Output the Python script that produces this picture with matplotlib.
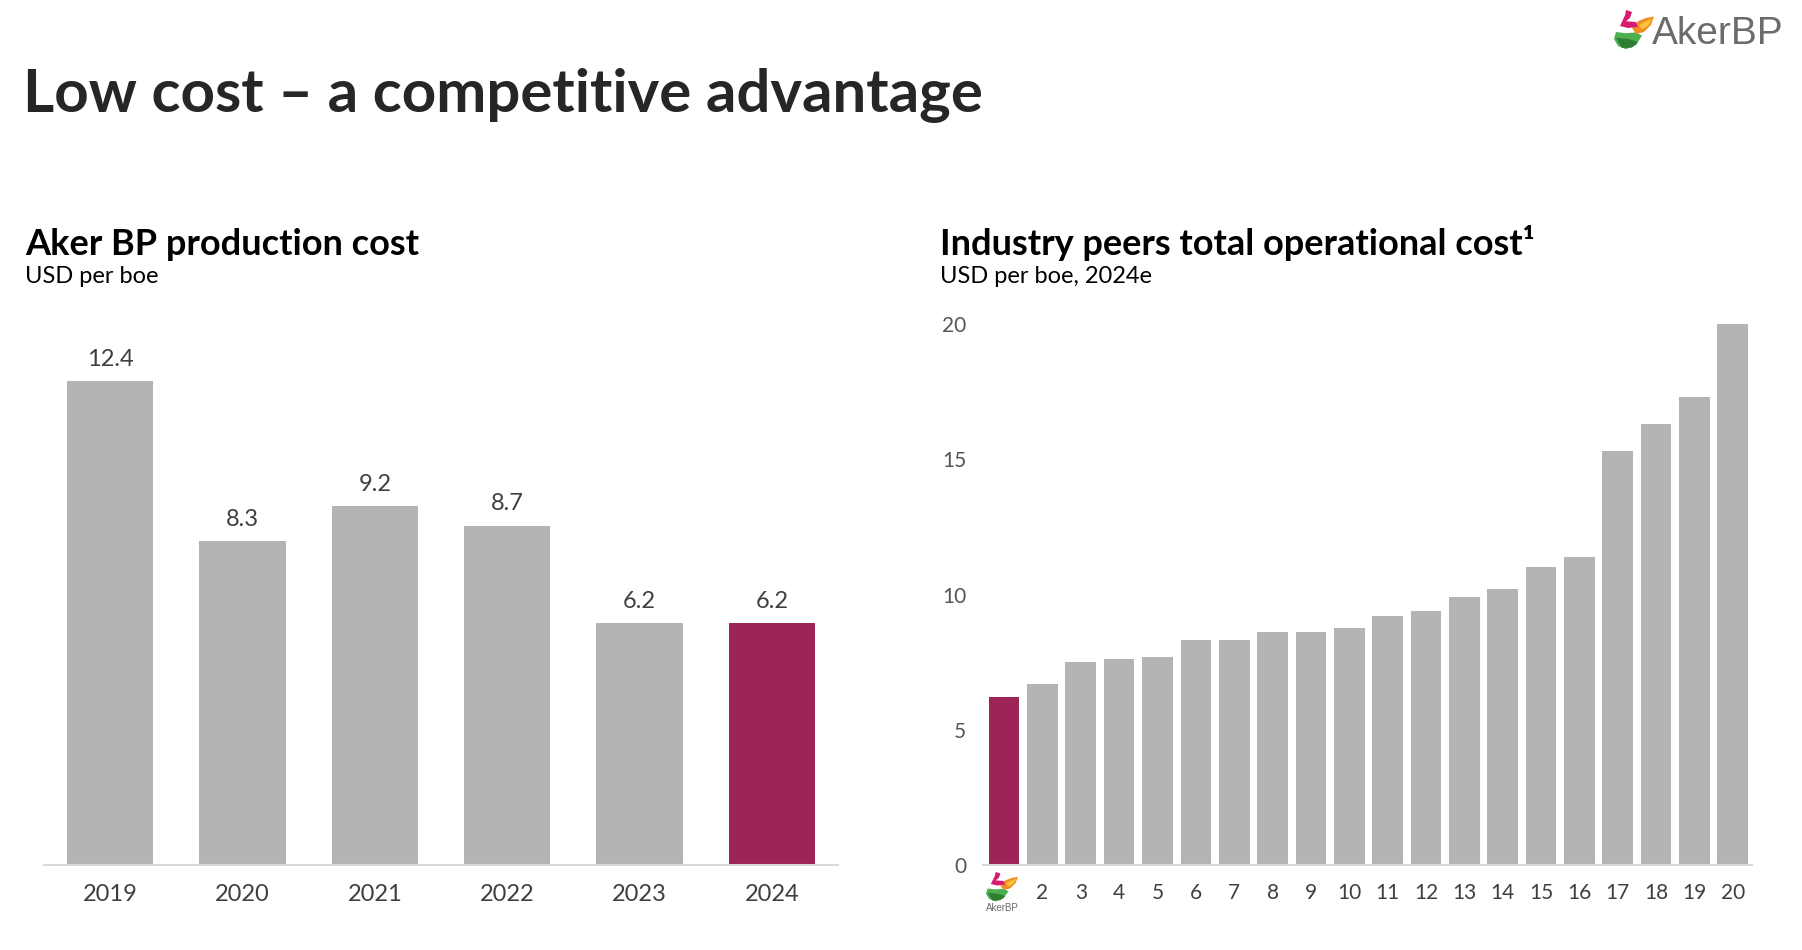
import matplotlib
matplotlib.use('Agg')
import matplotlib.pyplot as plt
from matplotlib.patches import Polygon
import numpy as np

plt.rcParams['font.family'] = ['Lato', 'DejaVu Sans']

# Left chart: Aker BP production cost (USD per boe)
years = ['2019', '2020', '2021', '2022', '2023', '2024']
production_cost = [12.4, 8.3, 9.2, 8.7, 6.2, 6.2]

# Right chart: industry peers total operational cost, 2024e
peer_labels = ['AkerBP', '2', '3', '4', '5', '6', '7', '8', '9', '10',
               '11', '12', '13', '14', '15', '16', '17', '18', '19', '20']
peer_cost = [6.2, 6.7, 7.5, 7.6, 7.7, 8.3, 8.3, 8.6, 8.6, 8.75,
             9.2, 9.4, 9.9, 10.2, 11.0, 11.4, 15.3, 16.3, 17.3, 20.0]
peer_yticks = [0, 5, 10, 15, 20]

GREY = '#b4b4b4'
HIGHLIGHT = '#9c2456'
TEXT = '#3f3f3f'
AXIS = '#d9d9d9'

W, H = 1802, 950


def draw_logo_icon(fig, x, y, w, h):
    # small stylised version of the swirl icon, placed in pixel coords
    ax = fig.add_axes([x / W, 1 - (y + h) / H, w / W, h / H])
    ax.set_xlim(0, 1)
    ax.set_ylim(0, 1)
    ax.axis('off')
    pink = [(0.30, 1.0), (0.45, 0.95), (0.40, 0.80), (0.30, 0.72), (0.55, 0.70),
            (0.60, 0.58), (0.35, 0.55), (0.15, 0.60), (0.22, 0.75), (0.28, 0.88)]
    orange = [(0.45, 0.55), (0.60, 0.72), (0.80, 0.80), (1.0, 0.84), (0.92, 0.62),
              (0.75, 0.45), (0.55, 0.40)]
    yellow = [(0.62, 0.62), (0.80, 0.72), (0.95, 0.78), (0.85, 0.60), (0.70, 0.52)]
    green = [(0.05, 0.45), (0.30, 0.42), (0.55, 0.44), (0.70, 0.36), (0.55, 0.12),
             (0.30, 0.02), (0.10, 0.10), (0.0, 0.28)]
    dgreen = [(0.05, 0.30), (0.35, 0.28), (0.60, 0.20), (0.45, 0.06), (0.20, 0.05)]
    for pts, c in [(green, '#4caf50'), (dgreen, '#2e7d32'), (orange, '#ef8f22'),
                   (yellow, '#f6c33a'), (pink, '#d81b72')]:
        ax.add_patch(Polygon(pts, closed=True, color=c, lw=0))
    return ax


fig = plt.figure(figsize=(W / 100, H / 100), dpi=100)

# Titles
fig.text(23 / W, 1 - 112 / H, 'Low cost \u2013 a competitive advantage',
         fontsize=43.2, fontweight='bold', color='#262626', va='baseline')
fig.text(25 / W, 1 - 255 / H, 'Aker BP production cost',
         fontsize=26, fontweight='bold', color='black', va='baseline')
fig.text(25 / W, 1 - 283 / H, 'USD per boe',
         fontsize=17, color='black', va='baseline')
fig.text(940 / W, 1 - 255 / H, 'Industry peers total operational cost\u00b9',
         fontsize=26, fontweight='bold', color='black', va='baseline')
fig.text(940 / W, 1 - 283 / H, 'USD per boe, 2024e',
         fontsize=17, color='black', va='baseline')

# Logo top right
draw_logo_icon(fig, 1614, 10, 40, 40)
fig.text(1652 / W, 1 - 44 / H, 'AkerBP', fontsize=28, color='#6b6b6b',
         family=['Liberation Sans', 'DejaVu Sans'], va='baseline')

# Left chart
ax1 = fig.add_axes([44 / W, 1 - 865 / H, (838 - 44) / W, 542 / H])
x1 = np.arange(len(years))
colors1 = [GREY] * (len(years) - 1) + [HIGHLIGHT]
ax1.bar(x1, production_cost, width=0.65, color=colors1)
for xi, v in zip(x1, production_cost):
    ax1.annotate(f'{v:.1f}', (xi, v), xytext=(0, 11), textcoords='offset points',
                 ha='center', va='baseline', fontsize=17, color=TEXT)
ax1.set_xlim(-0.5, len(years) - 0.5)
ax1.set_ylim(0, 13.9)
ax1.set_xticks(x1)
ax1.set_xticklabels(years)
ax1.set_yticks([])
ax1.tick_params(axis='x', length=0, pad=14, labelsize=17, labelcolor=TEXT)
for s in ['top', 'right', 'left']:
    ax1.spines[s].set_visible(False)
ax1.spines['bottom'].set_color(AXIS)
ax1.spines['bottom'].set_linewidth(1.5)

# Right chart
ax2 = fig.add_axes([983 / W, 1 - 865 / H, (1752 - 983) / W, 554.5 / H])
x2 = np.arange(len(peer_cost))
colors2 = [HIGHLIGHT] + [GREY] * (len(peer_cost) - 1)
ax2.bar(x2, peer_cost, width=0.8, color=colors2)
ax2.set_xlim(-0.55, len(peer_cost) - 0.5)
ax2.set_ylim(0, 20.5)
ax2.set_xticks(x2)
ax2.set_xticklabels([''] + peer_labels[1:])
ax2.set_yticks(peer_yticks)
ax2.set_yticklabels([str(t) for t in peer_yticks])
ax2.tick_params(axis='x', length=0, pad=13, labelsize=15, labelcolor=TEXT)
ax2.tick_params(axis='y', length=0, pad=12, labelsize=15, labelcolor='#555555')
for s in ['top', 'right', 'left']:
    ax2.spines[s].set_visible(False)
ax2.spines['bottom'].set_color(AXIS)
ax2.spines['bottom'].set_linewidth(1.5)

# small logo under the Aker BP bar
draw_logo_icon(fig, 986, 872, 32, 30)
fig.text(1002 / W, 1 - 911 / H, peer_labels[0], fontsize=7, color='#6b6b6b',
         family=['Liberation Sans', 'DejaVu Sans'], ha='center', va='baseline')

fig.savefig('out.png', dpi=100)
